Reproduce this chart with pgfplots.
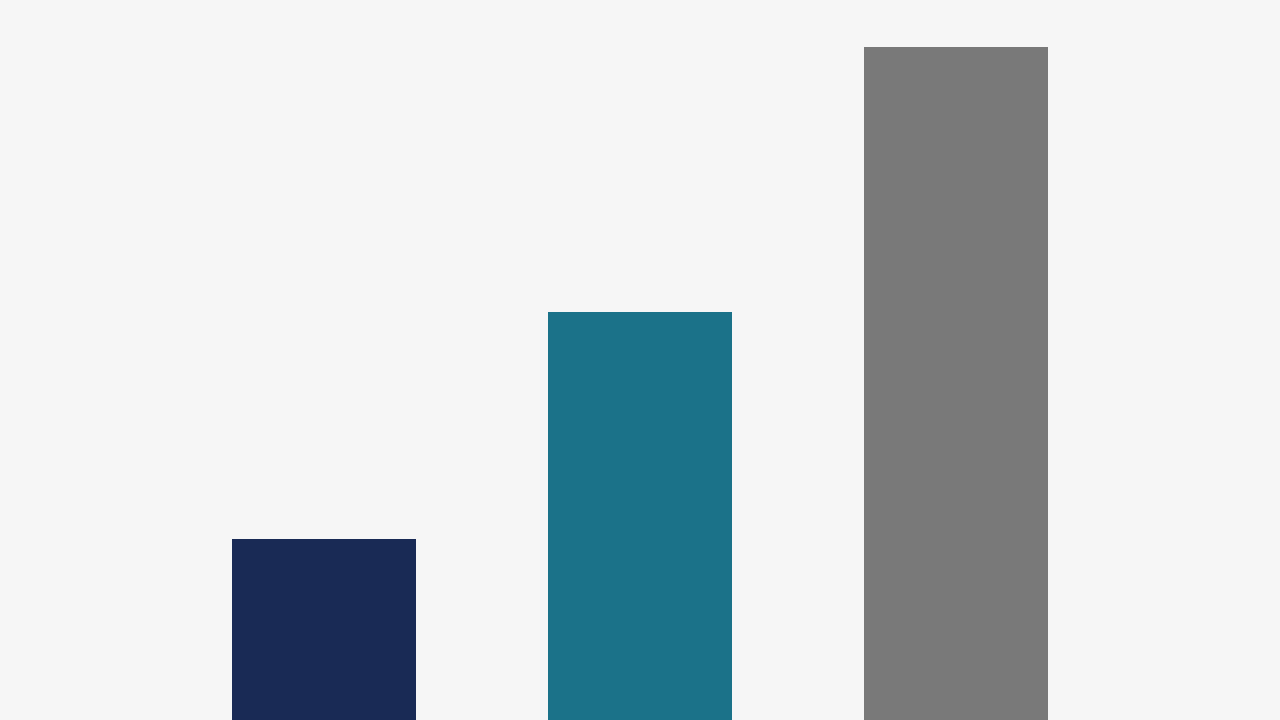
\documentclass[border=0pt]{standalone}
\usepackage{pgfplots}
\pgfplotsset{compat=1.18}
\definecolor{bgc}{HTML}{F6F6F6}
\definecolor{navy}{HTML}{192A55}
\definecolor{teal2}{HTML}{1B7289}
\definecolor{grayb}{HTML}{797979}
\begin{document}
\begin{tikzpicture}
\begin{axis}[
  scale only axis,
  width=12.8cm, height=7.2cm,
  hide axis,
  xmin=-1.0253, xmax=3.0253,
  ymin=0, ymax=720,
  clip=true,
]
\fill[bgc] (rel axis cs:0,0) rectangle (rel axis cs:1,1);
\addplot[ybar, bar width=0.5815, fill=navy, draw=none] coordinates {(0,181)};
\addplot[ybar, bar width=0.5815, fill=teal2, draw=none] coordinates {(1,408)};
\addplot[ybar, bar width=0.5815, fill=grayb, draw=none] coordinates {(2,673)};
\end{axis}
\end{tikzpicture}
\end{document}
